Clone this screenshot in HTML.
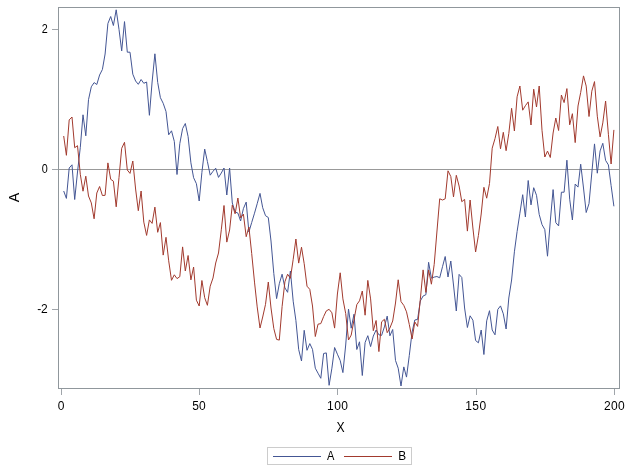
<!DOCTYPE html>
<html><head><meta charset="utf-8"><title>Series plot</title>
<style>
html,body{margin:0;padding:0;background:#fff;}
svg{display:block;}
text{font-family:"Liberation Sans",Arial,sans-serif;fill:#000;}
</style></head><body>
<svg width="633" height="472" viewBox="0 0 633 472">
<rect x="0" y="0" width="633" height="472" fill="#ffffff"/>
<g shape-rendering="crispEdges" stroke="#a0a5aa" stroke-width="1" fill="none">
<line x1="58" y1="169.5" x2="620" y2="169.5" stroke="#999999"/>
<rect x="58.5" y="7.5" width="561" height="381" stroke="#90979c"/>
<line x1="52" y1="29.5" x2="58" y2="29.5"/>
<line x1="52" y1="169.5" x2="58" y2="169.5"/>
<line x1="52" y1="309.5" x2="58" y2="309.5"/>
<line x1="61.5" y1="389" x2="61.5" y2="395"/>
<line x1="199.5" y1="389" x2="199.5" y2="395"/>
<line x1="337.5" y1="389" x2="337.5" y2="395"/>
<line x1="476.5" y1="389" x2="476.5" y2="395"/>
<line x1="614.5" y1="389" x2="614.5" y2="395"/>
</g>
<polyline fill="none" stroke="#445694" stroke-width="1" stroke-linejoin="miter" points="63.7,191.0 66.4,198.4 69.2,168.0 72.0,164.8 74.7,199.5 77.5,172.0 80.3,147.3 83.0,114.8 85.8,135.8 88.5,99.7 91.3,86.8 94.1,82.6 96.8,84.5 99.6,75.0 102.4,69.5 105.1,54.0 107.9,23.5 110.7,16.5 113.4,25.5 116.2,9.8 119.0,29.4 121.7,50.9 124.5,21.6 127.3,52.2 130.0,52.2 132.8,74.2 135.6,81.0 138.3,84.3 141.1,79.5 143.8,83.3 146.6,82.0 149.4,115.3 152.1,82.0 154.9,53.8 157.7,82.4 160.4,97.7 163.2,103.3 166.0,111.5 168.7,134.8 171.5,130.8 174.3,141.4 177.0,174.5 179.8,143.6 182.6,128.6 185.3,123.5 188.1,136.6 190.9,162.8 193.6,177.7 196.4,183.7 199.2,201.0 201.9,172.4 204.7,149.1 207.4,161.5 210.2,175.2 213.0,171.3 215.7,168.2 218.5,177.4 221.3,173.0 224.0,168.0 226.8,195.0 229.6,168.0 232.3,203.0 235.1,211.8 237.9,213.1 240.6,221.0 243.4,208.6 246.2,202.1 248.9,232.0 251.7,222.5 254.5,213.2 257.2,203.7 260.0,193.4 262.7,207.7 265.5,215.7 268.3,217.5 271.0,241.0 273.8,273.5 276.6,298.6 279.3,283.7 282.1,274.2 284.9,287.8 287.6,292.3 290.4,271.0 293.2,301.2 295.9,320.5 298.7,349.6 301.5,361.0 304.2,330.3 307.0,350.3 309.8,343.6 312.5,349.4 315.3,368.2 318.0,373.2 320.8,378.3 323.6,353.5 326.3,352.9 329.1,385.3 331.9,368.2 334.6,347.5 337.4,354.2 340.2,360.5 342.9,372.6 345.7,345.0 348.5,309.1 351.2,328.2 354.0,314.2 356.8,349.5 359.5,341.8 362.3,375.5 365.1,342.5 367.8,335.7 370.6,346.6 373.3,336.1 376.1,330.0 378.9,334.8 381.6,335.4 384.4,326.9 387.2,316.1 389.9,335.8 392.7,329.5 395.5,360.5 398.2,368.2 401.0,386.0 403.8,366.9 406.5,377.1 409.3,355.4 412.1,332.0 414.8,320.0 417.6,319.4 420.3,301.0 423.1,296.0 425.9,294.7 428.6,262.3 431.4,278.2 434.2,277.1 436.9,276.5 439.7,277.8 442.5,266.7 445.2,256.5 448.0,277.0 450.8,261.0 453.5,285.0 456.3,311.0 459.1,274.4 461.8,277.5 464.6,308.0 467.4,327.5 470.1,315.8 472.9,320.2 475.6,340.5 478.4,342.8 481.2,330.0 483.9,354.5 486.7,320.8 489.5,310.7 492.2,330.0 495.0,334.8 497.8,309.4 500.5,305.9 503.3,313.8 506.1,329.0 508.8,298.0 511.6,280.0 514.4,251.8 517.1,231.5 519.9,213.2 522.7,194.7 525.4,217.0 528.2,180.5 531.0,204.9 533.7,187.7 536.5,195.3 539.2,214.4 542.0,224.6 544.8,229.6 547.5,256.2 550.3,221.0 553.1,189.6 555.8,222.7 558.6,225.9 561.4,192.2 564.1,192.2 566.9,160.2 569.7,199.2 572.4,220.0 575.2,184.0 578.0,187.1 580.7,164.2 583.5,188.0 586.2,212.5 589.0,203.6 591.8,173.0 594.5,143.9 597.3,173.2 600.1,150.9 602.8,143.3 605.6,160.4 608.4,164.9 611.1,185.5 613.9,206.3"/>
<polyline fill="none" stroke="#a23a2e" stroke-width="1" stroke-linejoin="miter" points="63.7,136.0 66.4,155.3 69.2,119.9 72.0,117.0 74.7,147.7 77.5,145.7 80.3,174.3 83.0,191.2 85.8,176.2 88.5,196.0 91.3,202.9 94.1,218.8 96.8,193.0 99.6,186.5 102.4,195.5 105.1,195.3 107.9,162.9 110.7,179.3 113.4,181.2 116.2,206.8 119.0,177.5 121.7,148.3 124.5,142.3 127.3,170.0 130.0,173.4 132.8,161.0 135.6,189.0 138.3,210.7 141.1,191.0 143.8,222.1 146.6,235.4 149.4,219.9 152.1,223.4 154.9,207.1 157.7,232.3 160.4,222.6 163.2,255.1 166.0,237.3 168.7,260.8 171.5,280.3 174.3,274.8 177.0,278.6 179.8,276.7 182.6,246.9 185.3,271.0 188.1,255.5 190.9,279.9 193.6,267.0 196.4,300.2 199.2,306.0 201.9,280.5 204.7,297.7 207.4,305.3 210.2,286.2 213.0,278.0 215.7,263.0 218.5,253.0 221.3,229.8 224.0,205.5 226.8,242.1 229.6,230.0 232.3,205.0 235.1,213.8 237.9,198.0 240.6,217.8 243.4,214.1 246.2,236.7 248.9,227.0 251.7,253.5 254.5,282.1 257.2,306.9 260.0,328.0 262.7,317.0 265.5,304.4 268.3,282.0 271.0,308.0 273.8,328.5 276.6,339.4 279.3,340.1 282.1,306.5 284.9,281.8 287.6,274.2 290.4,278.3 293.2,259.3 295.9,239.0 298.7,263.1 301.5,247.2 304.2,263.7 307.0,286.2 309.8,289.4 312.5,306.0 315.3,336.5 318.0,324.2 320.8,323.6 323.6,316.6 326.3,310.9 329.1,309.3 331.9,312.8 334.6,328.1 337.4,294.0 340.2,272.8 342.9,298.9 345.7,313.5 348.5,340.0 351.2,335.1 354.0,319.9 356.8,304.6 359.5,300.8 362.3,291.0 365.1,315.2 367.8,280.4 370.6,298.9 373.3,330.7 376.1,320.5 378.9,351.6 381.6,321.8 384.4,319.3 387.2,332.7 389.9,328.0 392.7,321.0 395.5,303.0 398.2,279.8 401.0,301.6 403.8,305.4 406.5,311.8 409.3,324.5 412.1,339.0 414.8,322.0 417.6,326.4 420.3,299.4 423.1,269.9 425.9,292.4 428.6,269.9 431.4,284.2 434.2,264.4 436.9,232.0 439.7,198.8 442.5,200.0 445.2,198.8 448.0,170.8 450.8,176.5 453.5,196.9 456.3,175.3 459.1,186.0 461.8,201.7 464.6,199.4 467.4,231.1 470.1,200.0 472.9,228.0 475.6,252.0 478.4,235.5 481.2,214.0 483.9,187.3 486.7,198.2 489.5,183.5 492.2,148.2 495.0,138.6 497.8,126.5 500.5,148.8 503.3,132.3 506.1,150.7 508.8,133.5 511.6,108.3 514.4,131.0 517.1,96.8 519.9,86.0 522.7,110.2 525.4,105.7 528.2,101.9 531.0,125.0 533.7,89.2 536.5,107.0 539.2,86.0 542.0,130.3 544.8,157.0 547.5,151.1 550.3,157.5 553.1,133.0 555.8,118.0 558.6,130.5 561.4,95.0 564.1,102.6 566.9,88.6 569.7,124.8 572.4,113.7 575.2,142.6 578.0,106.0 580.7,92.4 583.5,75.9 586.2,86.1 589.0,116.5 591.8,91.2 594.5,81.6 597.3,116.2 600.1,136.9 602.8,122.9 605.6,101.0 608.4,134.3 611.1,164.0 613.9,129.9"/>
<g font-size="12px" text-anchor="end">
<text transform="translate(47.8,32.6) scale(0.9,1)">2</text>
<text transform="translate(47.8,172.6) scale(0.9,1)">0</text>
<text x="47.8" y="312.6">-2</text>
</g>
<g font-size="12px" text-anchor="middle">
<text x="61" y="410">0</text>
<text x="199" y="410">50</text>
<text x="337.7" y="410" letter-spacing="0.4">100</text>
<text x="475.9" y="410" letter-spacing="0.4">150</text>
<text x="614.6" y="410" letter-spacing="0.4">200</text>
</g>
<text font-size="14.2px" text-anchor="middle" transform="translate(340.5,432) scale(0.86,1)">X</text>
<text font-size="14.2px" text-anchor="middle" transform="translate(18.7,197.5) rotate(-90)">A</text>
<rect x="267.5" y="447.5" width="144" height="17" fill="#fff" stroke="#cccccc" stroke-width="1" shape-rendering="crispEdges"/>
<line x1="273" y1="456.5" x2="321" y2="456.5" stroke="#445694" stroke-width="1" shape-rendering="crispEdges"/>
<line x1="344" y1="456.5" x2="392" y2="456.5" stroke="#a23a2e" stroke-width="1" shape-rendering="crispEdges"/>
<text font-size="12.3px" transform="translate(327,459.7) scale(0.9,1)">A</text>
<text font-size="12.3px" transform="translate(398.2,459.7) scale(0.96,1)">B</text>
</svg>
</body></html>
